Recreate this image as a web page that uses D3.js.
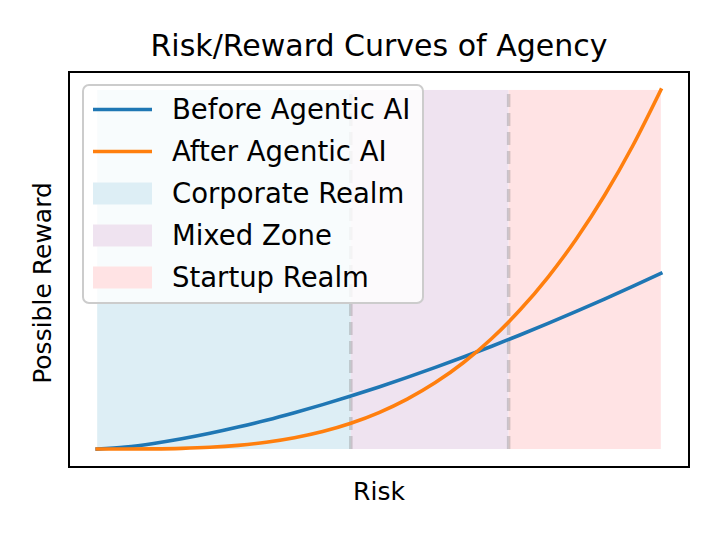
<!DOCTYPE html>
<html>
<head>
<meta charset="utf-8">
<script src="https://cdn.jsdelivr.net/npm/d3@7"></script>
<style>
  body { margin: 0; background: #fff; }
  text { font-family: "DejaVu Sans", sans-serif; fill: #000; }
</style>
</head>
<body>
<svg id="chart" width="720" height="540"></svg>
<script>
// risk axis (no ticks shown in the original)
const risk = [0, 0.5, 1, 1.5, 2, 2.5, 3, 3.5, 4, 4.5, 5, 5.5, 6, 6.5, 7, 7.5, 8, 8.5, 9, 9.5, 10];
// reward
const before = [0, 0.55, 1.55, 2.84, 4.37, 6.11, 8.03, 10.13, 12.37, 14.76, 17.29, 19.95, 22.73, 25.63, 28.64, 31.76, 34.99, 38.32, 41.75, 45.28, 48.9];
const after = [0, 0.01, 0.05, 0.19, 0.49, 1.03, 1.88, 3.13, 4.86, 7.17, 10.15, 13.9, 18.5, 24.1, 30.8, 38.7, 47.9, 58.5, 70.6, 84.4, 100];

const zoneNames = ["Corporate Realm", "Mixed Zone", "Startup Realm"];
const zoneStart = [0, 4.5, 7.3];
const zoneEnd = [4.5, 7.3, 10];
const zoneColors = ["#ddeef5", "#efe3f0", "#ffe3e4"];
const zoneTop = 100;

const seriesNames = ["Before Agentic AI", "After Agentic AI"];
const seriesColors = ["#1f77b4", "#ff7f0e"];

const svg = d3.select("#chart"),
  margin = { top: 72, right: 31, bottom: 73, left: 69 },
  width = 720 - margin.left - margin.right,
  height = 540 - margin.top - margin.bottom;

const g = svg.append("g").attr("transform", `translate(${margin.left},${margin.top})`);

const x = d3.scaleLinear().domain([-0.5, 10.5]).range([0, width]);
const y = d3.scaleLinear().domain([-5, 105]).range([height, 0]);

// zones
g.selectAll(".zone")
  .data(zoneNames)
  .enter()
  .append("rect")
  .attr("class", "zone")
  .attr("x", (d, i) => x(zoneStart[i]))
  .attr("width", (d, i) => x(zoneEnd[i]) - x(zoneStart[i]))
  .attr("y", y(zoneTop))
  .attr("height", y(0) - y(zoneTop))
  .style("fill", (d, i) => zoneColors[i]);

// zone borders
g.selectAll(".divider")
  .data(zoneStart.slice(1))
  .enter()
  .append("line")
  .attr("x1", (d) => x(d))
  .attr("x2", (d) => x(d))
  .attr("y1", y(0))
  .attr("y2", y(zoneTop))
  .style("stroke", "gray")
  .style("stroke-opacity", 0.35)
  .style("stroke-width", 3.5)
  .style("stroke-dasharray", "13,6");

// curves
const line = d3
  .line()
  .x((d, i) => x(risk[i]))
  .y((d) => y(d))
  .curve(d3.curveMonotoneX);

[before, after].forEach((vals, k) => {
  g.append("path")
    .datum(vals)
    .attr("d", line)
    .style("fill", "none")
    .style("stroke", seriesColors[k])
    .style("stroke-width", 3.6)
    .style("stroke-linecap", "square");
});

// axes frame, no ticks
const xAxis = d3.axisBottom(x).tickValues([]).tickSizeOuter(0);
const yAxis = d3.axisLeft(y).tickValues([]).tickSizeOuter(0);
g.append("g").attr("transform", `translate(0,${height})`).call(xAxis);
g.append("g").call(yAxis);
g.append("rect")
  .attr("width", width)
  .attr("height", height)
  .style("fill", "none")
  .style("stroke", "#000")
  .style("stroke-width", 2);
g.selectAll(".domain").remove();

// title and labels
svg.append("text")
  .attr("x", margin.left + width / 2)
  .attr("y", 56)
  .attr("text-anchor", "middle")
  .style("font-size", "30px")
  .text("Risk/Reward Curves of Agency");

svg.append("text")
  .attr("x", margin.left + width / 2)
  .attr("y", 500)
  .attr("text-anchor", "middle")
  .style("font-size", "25px")
  .text("Risk");

svg.append("text")
  .attr("transform", "translate(51,283) rotate(-90)")
  .attr("text-anchor", "middle")
  .style("font-size", "25px")
  .text("Possible Reward");

// legend
const legend = svg.append("g").attr("transform", "translate(83,85)");
legend.append("rect")
  .attr("width", 340)
  .attr("height", 218)
  .attr("rx", 6)
  .style("fill", "#fff")
  .style("fill-opacity", 0.8)
  .style("stroke", "#cccccc")
  .style("stroke-width", 2);

const rowY = (i) => 24.5 + i * 42;
const labels = seriesNames.concat(zoneNames);

labels.forEach((name, i) => {
  if (i < 2) {
    legend.append("line")
      .attr("x1", 10)
      .attr("x2", 69)
      .attr("y1", rowY(i))
      .attr("y2", rowY(i))
      .style("stroke", seriesColors[i])
      .style("stroke-width", 3.6);
  } else {
    legend.append("rect")
      .attr("x", 10)
      .attr("y", rowY(i) - 11)
      .attr("width", 59)
      .attr("height", 22)
      .style("fill", zoneColors[i - 2]);
  }
  legend.append("text")
    .attr("x", 89)
    .attr("y", rowY(i))
    .attr("dy", "0.36em")
    .style("font-size", "27.5px")
    .text(name);
});
</script>
</body>
</html>
